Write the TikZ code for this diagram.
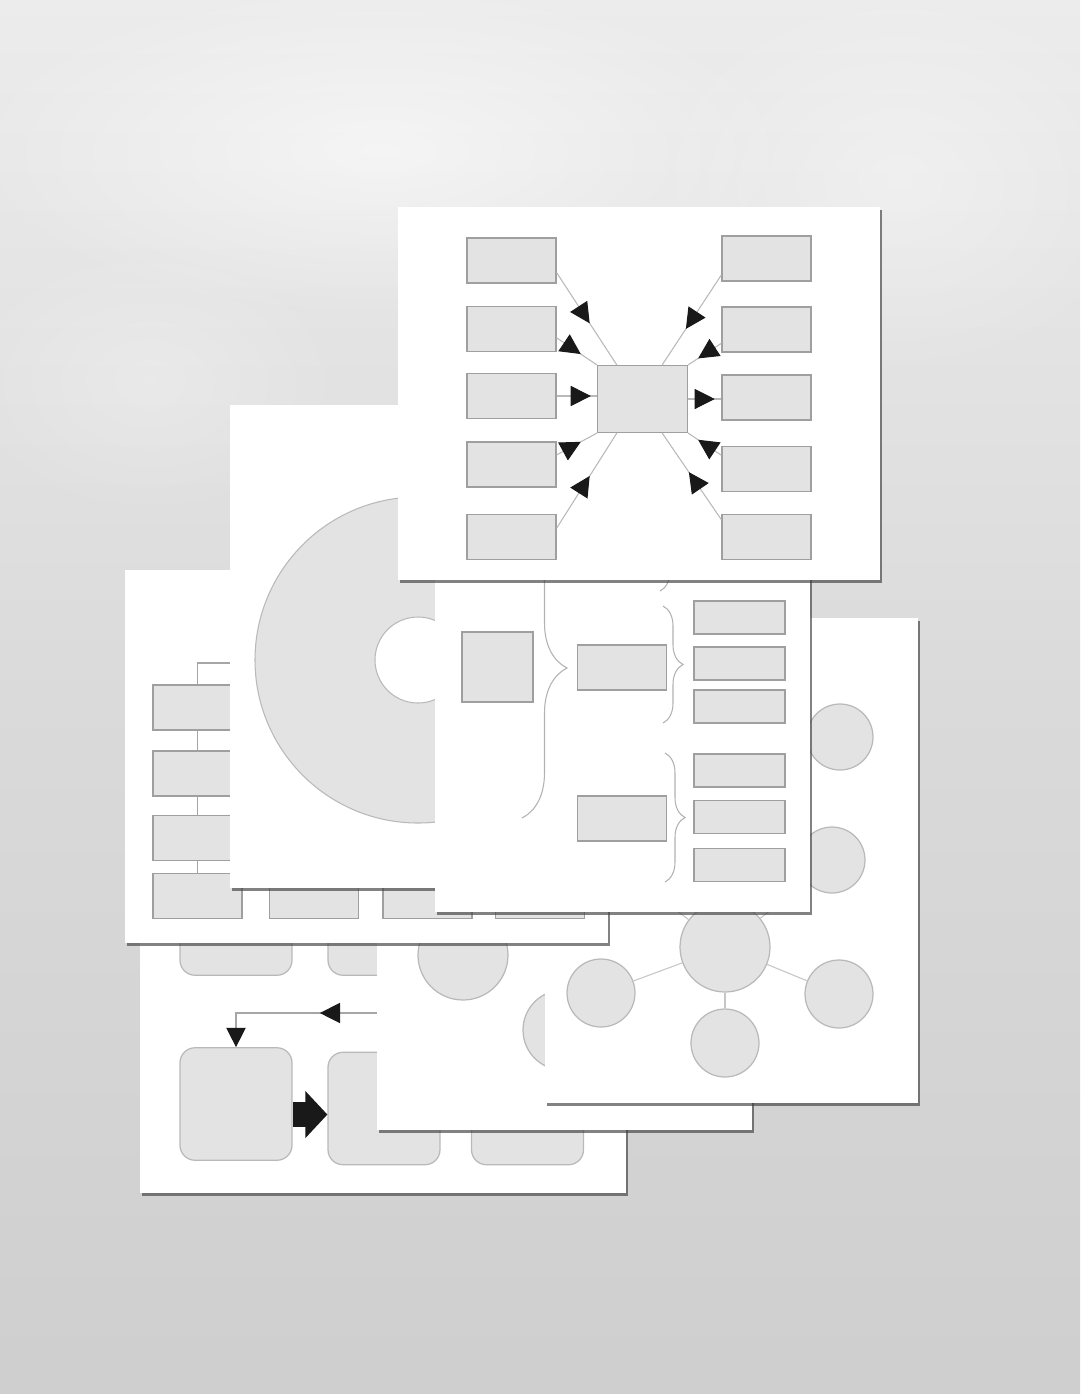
\documentclass[tikz,border=0pt]{standalone}
\usetikzlibrary{arrows.meta,decorations.markings,decorations.pathreplacing,shadows,fadings}
\tikzfading[name=softglow,inner color=transparent!0,outer color=transparent!100]
\tikzset{
  page/.style={fill=white,drop shadow={shadow xshift=1.3pt,shadow yshift=-1.5pt,opacity=.65,fill=black!75}},
  sheet/.style={draw=gray!75,fill=gray!22,line width=0.7pt,inner sep=0pt},
  wbox/.style={sheet,minimum width=1.78cm,minimum height=0.9cm},
  slim/.style={sheet,minimum width=1.82cm,minimum height=0.66cm},
  rbox/.style={sheet,draw=gray!55,rounded corners=0.3cm,minimum width=2.24cm,minimum height=2.25cm},
  bubble/.style={sheet,draw=gray!55,circle,minimum size=#1},
  link/.style={draw=gray!55,line width=0.6pt},
  midarr/.style={postaction={decorate,decoration={markings,
    mark=at position #1 with {\arrow{Triangle[length=11.5pt,width=11.5pt,color=black!90]}}}}},
  curly/.style={draw=gray!60,line width=0.6pt,decorate,decoration={brace,amplitude=#1}},
  glow/.style={white,path fading=softglow}
}
\begin{document}
\begin{tikzpicture}[x=0.02cm,y=-0.02cm]
\useasboundingbox (0,0) rectangle (1080,1394);
% backdrop
\shade[top color=gray!15,bottom color=gray!38,middle color=gray!29] (0,0) rectangle (1080,1394);
\fill[glow,opacity=.55] (380,150) ellipse [x radius=420,y radius=170];
\fill[glow,opacity=.35] (900,180) ellipse [x radius=260,y radius=200];
\fill[glow,opacity=.25] (150,380) ellipse [x radius=200,y radius=140];

% flow chart sheet
\fill[page] (140,870) rectangle (626,1193);
\node[rbox] (f1) at (236,919) {};
\node[rbox] (f2) at (384,919) {};
\node[rbox] (b1) at (236,1104) {};
\node[rbox] (b2) at (384,1108.5) {};
\node[rbox] (b3) at (527.5,1108.5) {};
\coordinate (back) at (470,1013);
\draw[link,draw=gray!70,midarr=.56,-{Triangle[length=11pt,width=11pt,color=black!90]}] (back) -| (b1.north);
\draw[line width=14pt,black!90,-{Triangle[length=12.5pt,width=26pt]}] ([yshift=-6]b1.east) -- ([yshift=-6]b1.east -| b2.west);

% circles sheet
\fill[page] (377,700) rectangle (752,1130);
\node[bubble=1.8cm] (p1) at (463,955) {};
\node[bubble=1.6cm] (p2) at (563,1030) {};

% mind map sheet
\fill[page] (545,618) rectangle (918,1103);
\node[bubble=1.8cm] (m) at (725,947) {};
\node[bubble=1.32cm] (c1) at (840,737) {};
\node[bubble=1.32cm] (c2) at (832,860) {};
\node[bubble=1.36cm] (mw) at (601,993) {};
\node[bubble=1.36cm] (me) at (839,994) {};
\node[bubble=1.36cm] (ms) at (725,1043) {};
\coordinate (d2) at (620,868);
\foreach \t in {mw,me,ms,c2,d2} \draw[link,draw=gray!45] (m) -- (\t);

% org chart sheet
\fill[page] (125,570) rectangle (608,943);
\foreach \y [count=\i] in {707.5,773.5,838,896}
  \node[wbox] (o\i) at (197.5,\y) {};
\foreach \x [count=\i] in {314,427.5,540}
  \node[wbox] (u\i) at (\x,896) {};
\coordinate (otop) at (330,663);
\draw[link,draw=gray!70] (o1.north) |- (otop);
\foreach \i [evaluate=\i as \j using int(\i+1)] in {1,2,3}
  \draw[link,draw=gray!70] (o\i.south) -- (o\j.north);

% ring sheet
\fill[page] (230,405) rectangle (700,888);
\filldraw[fill=gray!22,draw=gray!55,line width=0.6pt,even odd rule]
  (418,660) circle[radius=163] (418,660) circle[radius=43];

% brace sheet
\fill[page] (435,565) rectangle (810,912);
\node[sheet,minimum width=1.42cm,minimum height=1.4cm] (sq) at (497.5,667) {};
\node[wbox] (k1) at (622,667.5) {};
\node[wbox] (k2) at (622,818.5) {};
\foreach \y [count=\i] in {617.5,663.5,706.5,770.5,817,865}
  \node[slim] (s\i) at (739.5,\y) {};
\draw[curly=0.9cm] (522,518) -- (522,818);
\draw[curly=0.4cm] (660,470) -- (660,591);
\draw[curly=0.4cm] (663,606) -- (663,723);
\draw[curly=0.4cm] (665,753) -- (665,882);

% hub sheet
\fill[page] (398,207) rectangle (880,580);
\foreach \y [count=\i] in {260.5,329,396,464.5,537}
  \node[wbox] (l\i) at (511.5,\y) {};
\foreach \y [count=\i] in {258.5,329.5,397.5,469,537}
  \node[wbox] (r\i) at (766.5,\y) {};
\node[sheet,minimum width=1.8cm,minimum height=1.34cm] (hub) at (642.5,399) {};
\draw[link,midarr=.55] (l1.-15) -- (hub.127);
\draw[link,midarr=.6] (l2.-11) -- (hub.north west);
\draw[link,midarr=.85] (l3.east) -- (l3.east -| hub.west);
\draw[link,midarr=.6] (l4.12) -- (hub.south west);
\draw[link,midarr=.55] (l5.11) -- (hub.233);
\draw[link,midarr=.6] (r1.200) -- (hub.60);
\draw[link,midarr=.7] (r2.197) -- (hub.north east);
\draw[link,midarr=.8] (hub.east) -- (hub.east -| r3.west);
\draw[link,midarr=.7] (r4.163) -- (hub.south east);
\draw[link,midarr=.55] (r5.159) -- (hub.-60);
\end{tikzpicture}
\end{document}
